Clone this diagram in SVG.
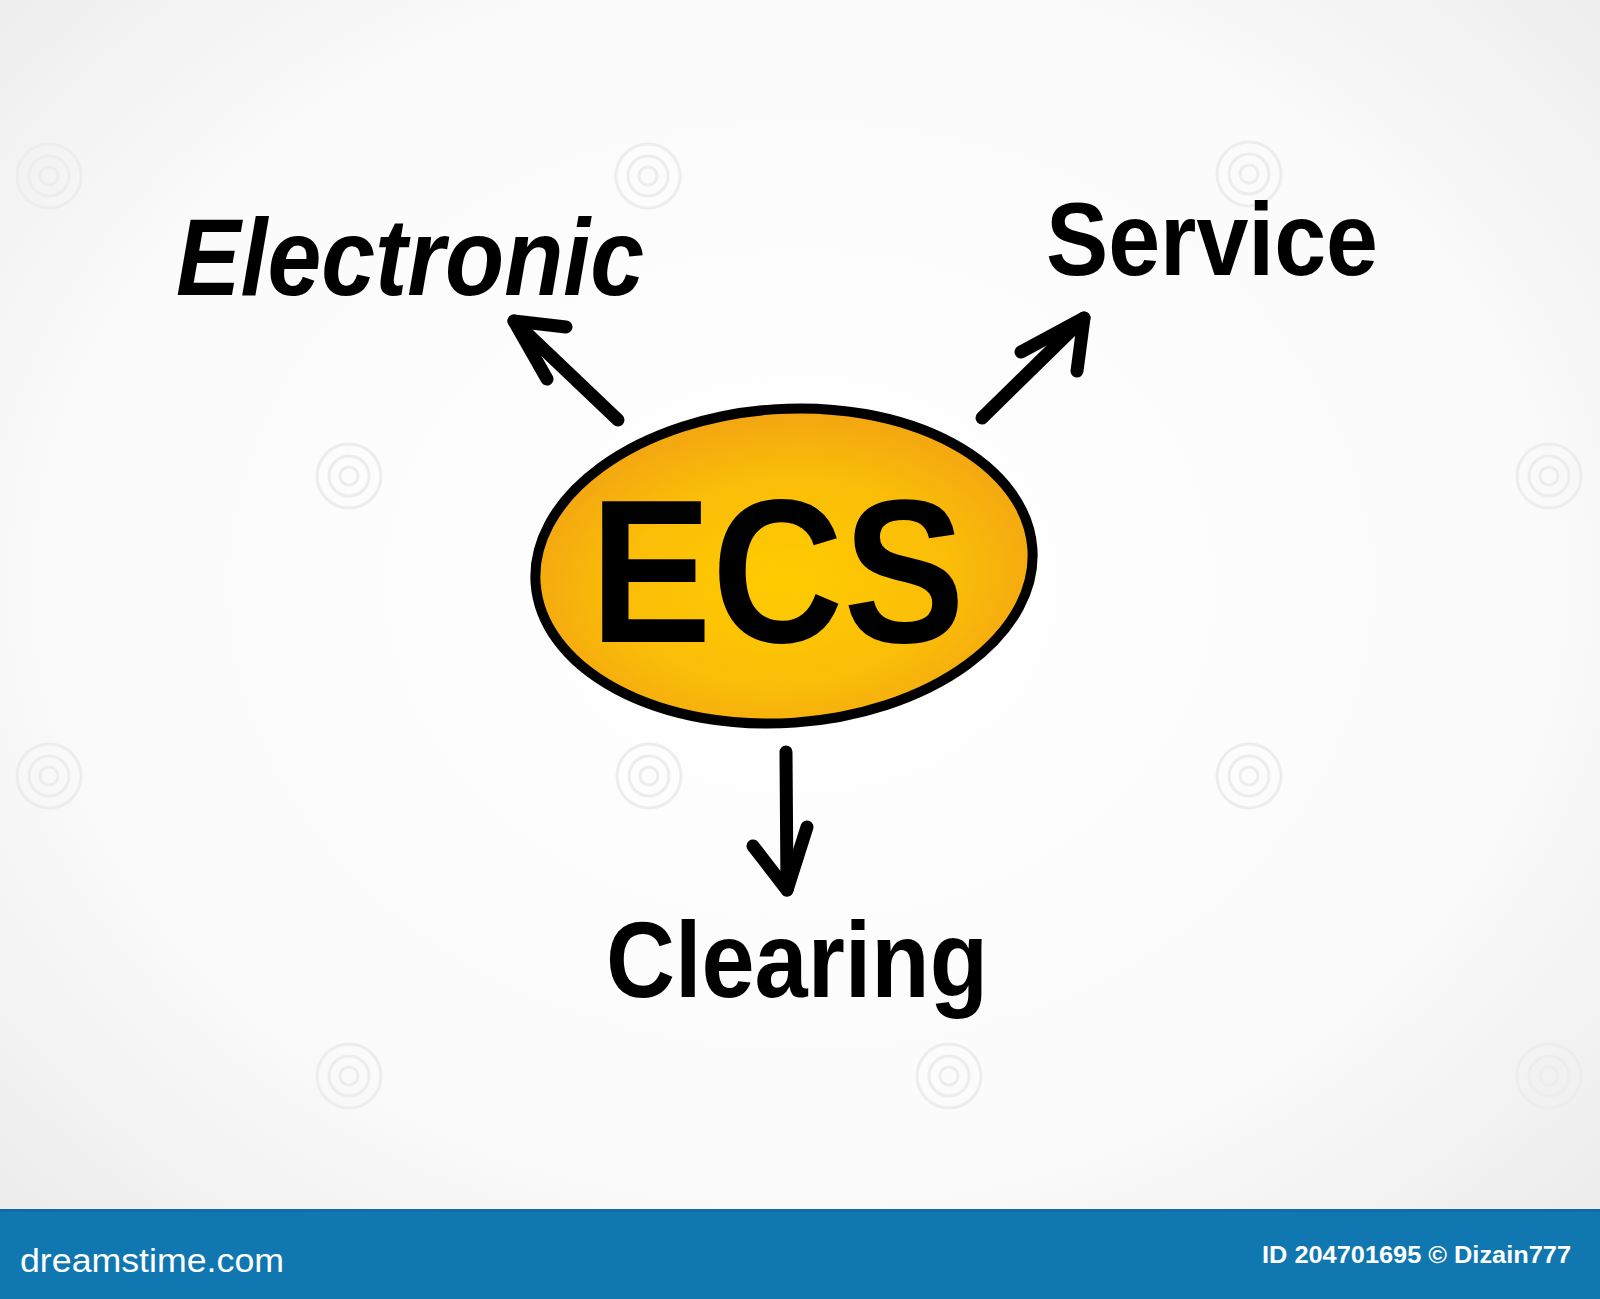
<svg xmlns="http://www.w3.org/2000/svg" width="1600" height="1299" viewBox="0 0 1600 1299">
<defs>
<radialGradient id="bg" cx="50%" cy="45%" r="75%">
<stop offset="0" stop-color="#ffffff"/>
<stop offset="0.6" stop-color="#fbfbfb"/>
<stop offset="1" stop-color="#e9e9ea"/>
</radialGradient>
<radialGradient id="fillg" cx="50%" cy="55%" r="55%">
<stop offset="0" stop-color="#ffcc00"/>
<stop offset="0.6" stop-color="#fbbd08"/>
<stop offset="1" stop-color="#f2a512"/>
</radialGradient>
<style>
.lbl{font-family:"Liberation Sans",Arial,sans-serif;font-weight:bold;fill:#000}
.conn{fill:none;stroke:#000;stroke-width:13;stroke-linecap:round;stroke-linejoin:round}
.wm{fill:none;stroke:#ededed;stroke-width:3}
.foot{font-family:"Liberation Sans",Arial,sans-serif;fill:#fff}
</style>
</defs>
<rect x="0" y="0" width="1600" height="1299" fill="url(#bg)"/>
<g id="watermarks">
<g class="wm"><circle cx="49" cy="176" r="32"/><circle cx="49" cy="176" r="20"/><circle cx="49" cy="176" r="9"/></g>
<g class="wm"><circle cx="648" cy="176" r="32"/><circle cx="648" cy="176" r="20"/><circle cx="648" cy="176" r="9"/></g>
<g class="wm"><circle cx="1249" cy="174" r="32"/><circle cx="1249" cy="174" r="20"/><circle cx="1249" cy="174" r="9"/></g>
<g class="wm"><circle cx="349" cy="476" r="32"/><circle cx="349" cy="476" r="20"/><circle cx="349" cy="476" r="9"/></g>
<g class="wm"><circle cx="1549" cy="476" r="32"/><circle cx="1549" cy="476" r="20"/><circle cx="1549" cy="476" r="9"/></g>
<g class="wm"><circle cx="49" cy="776" r="32"/><circle cx="49" cy="776" r="20"/><circle cx="49" cy="776" r="9"/></g>
<g class="wm"><circle cx="649" cy="776" r="32"/><circle cx="649" cy="776" r="20"/><circle cx="649" cy="776" r="9"/></g>
<g class="wm"><circle cx="1249" cy="776" r="32"/><circle cx="1249" cy="776" r="20"/><circle cx="1249" cy="776" r="9"/></g>
<g class="wm"><circle cx="349" cy="1076" r="32"/><circle cx="349" cy="1076" r="20"/><circle cx="349" cy="1076" r="9"/></g>
<g class="wm"><circle cx="949" cy="1076" r="32"/><circle cx="949" cy="1076" r="20"/><circle cx="949" cy="1076" r="9"/></g>
<g class="wm"><circle cx="1549" cy="1076" r="32"/><circle cx="1549" cy="1076" r="20"/><circle cx="1549" cy="1076" r="9"/></g>
</g>
<g id="connectors">
<path class="conn" d="M618 420 L514 321"/>
<path class="conn" d="M566 327 L514 321 L547 379"/>
<path class="conn" d="M982 418 L1084 318"/>
<path class="conn" d="M1021 352 L1084 318 L1077 371"/>
<path class="conn" d="M786 752 L787 890"/>
<path class="conn" d="M753 846 L787 890 L807 827"/>
</g>
<g id="node-ecs">
<ellipse cx="784" cy="566" rx="249" ry="157" transform="rotate(-4 784 566)" fill="url(#fillg)" stroke="#000" stroke-width="10"/>
<text class="lbl" x="590" y="642" font-size="205" textLength="375" lengthAdjust="spacingAndGlyphs">ECS</text>
</g>
<g id="node-electronic">
<text class="lbl" x="176" y="295" font-size="110" font-style="italic" textLength="468" lengthAdjust="spacingAndGlyphs">Electronic</text>
</g>
<g id="node-service">
<text class="lbl" x="1046" y="275" font-size="104" textLength="332" lengthAdjust="spacingAndGlyphs">Service</text>
</g>
<g id="node-clearing">
<text class="lbl" x="606" y="997" font-size="108" textLength="382" lengthAdjust="spacingAndGlyphs">Clearing</text>
</g>
<g id="footer">
<rect x="0" y="1209" width="1600" height="90" fill="#1077b0"/>
<rect x="0" y="1209" width="1600" height="3" fill="#0f6fa4"/>
<text class="foot" x="20" y="1272" font-size="33" textLength="264" lengthAdjust="spacingAndGlyphs">dreamstime.com</text>
<text class="foot" x="1571" y="1263" font-size="23" font-weight="bold" text-anchor="end" textLength="309" lengthAdjust="spacingAndGlyphs">ID 204701695 © Dizain777</text>
</g>
</svg>
